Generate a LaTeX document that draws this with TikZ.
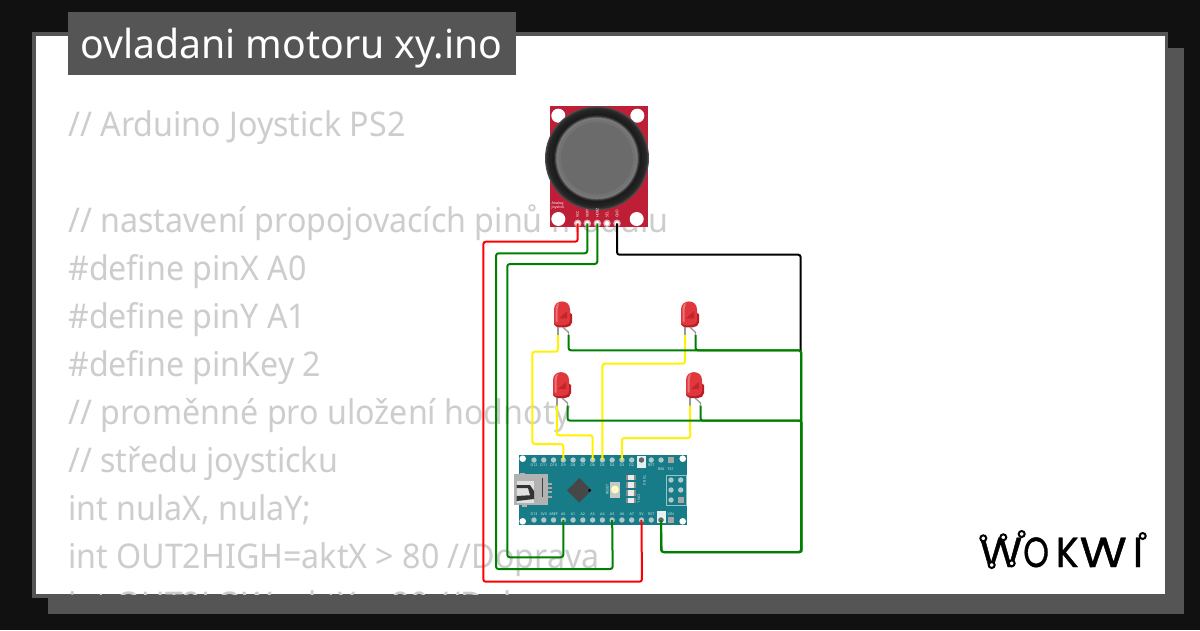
\documentclass[tikz,border=0pt]{standalone}
\usepackage{fontspec}
\setmainfont{Noto Sans}
\newfontfamily\codefont[FakeStretch=0.947]{Noto Sans}
\newfontfamily\titlefont[FakeStretch=0.98]{Noto Sans}
\newfontfamily\logofont[FakeBold=1]{Poppins}
\usepackage{xcolor}
\usetikzlibrary{positioning}
\definecolor{pagebg}{HTML}{111111}
\definecolor{cardgrey}{HTML}{555555}
\definecolor{codegrey}{HTML}{CDCDCD}
\definecolor{boardred}{HTML}{BE1E36}
\definecolor{nanoteal}{HTML}{177C87}
\definecolor{wiregreen}{HTML}{008000}
\definecolor{ledred}{HTML}{E0373D}
\definecolor{leddark}{HTML}{B81E24}
\tikzset{
  wire/.style={line width=2pt,rounded corners=2.5pt},
  redwire/.style={wire,red},
  greenwire/.style={wire,wiregreen},
  yellowwire/.style={wire,yellow},
  blackwire/.style={wire,black},
  codeline/.style={anchor=base west,inner sep=0pt,text=codegrey,font=\codefont\fontsize{34}{40}\selectfont},
  pinlabel/.style={inner sep=0pt,text=white!85!nanoteal,font=\fontsize{3.6}{4}\selectfont},
  jslabel/.style={inner sep=0pt,text=white,font=\fontsize{3.6}{4}\selectfont},
  ledleg/.style={draw=black!40,line width=1.3pt}
}
\begin{document}
\begin{tikzpicture}[x=1pt,y=-1pt]
  \useasboundingbox (0,0) rectangle (1200,630);
  \fill[pagebg] (0,0) rectangle (1200,630);
  \fill[cardgrey] (48,48) rectangle (1184,614);
  \fill[cardgrey] (32,32) rectangle (1168,598);
  \fill[white] (36,36) rectangle (1165,594);
  % code behind the circuit
  \begin{scope}
    \clip (36,36) rectangle (1165,594);
    \foreach \y/\codetext [count=\n] in {
      136/{// Arduino Joystick PS2},
      232/{// nastavení propojovacích pinů modulu},
      280/{\#define pinX A0},
      328/{\#define pinY A1},
      376/{\#define pinKey 2},
      424/{// proměnné pro uložení hodnoty},
      472/{// středu joysticku},
      520/{int nulaX, nulaY;},
      568/{int OUT2HIGH=aktX > 80 //Doprava},
      616/{int OUT2LOW=aktX < 80 //Doleva}
    } {
      \node[codeline] (code\n) at (68,\y) {\codetext};
    }
  \end{scope}
  \fill[cardgrey] (68,12) rectangle (516,75);
  \node[anchor=base west,inner sep=0pt,text=white,font=\titlefont\fontsize{40}{46}\selectfont] (title) at (80,58) {ovladani motoru xy.ino};
  % joystick
  \fill[boardred] (549.7,106) rectangle (647.7,227.3);
  \foreach \x/\y in {558.3/115.7,637.3/115.7,558.3/219,636.7/219} {
    \fill[white] (\x,\y) circle (7);
  }
  \foreach \r/\shadeval in {52/70,51/78,50/84,48/87,45/89,43/84,42/72,41/62,40.5/52,39/55,36/58} {
    \fill[black!\shadeval] (597,158.3) circle (\r);
  }
  \node[jslabel,align=left,anchor=north west] (jstext) at (551.5,201.5) {Analog\\Joystick};
  \foreach \pinname/\x in {VCC/577.7,VERT/587.3,HORZ/597.3,SEL/607,GND/617} {
    \coordinate (js\pinname) at (\x,223.3);
    \fill[black!15!boardred!35!white] (js\pinname) circle (3.8);
    \fill[white] (js\pinname) circle (2.2);
    \node[jslabel,rotate=90,anchor=west] (jslbl\pinname) at (\x,218) {\pinname};
  }
  % nano
  \fill[nanoteal] (519.3,455.3) rectangle (687,525);
  \foreach \x/\y in {522.7/458.7,682.7/458.7,522.7/521.3,682.7/521.3} {
    \fill[white] (\x,\y) circle (3.3);
  }
  \fill[white!90!nanoteal] (637.3,455.7) rectangle (646,467.7);
  \fill[white!90!nanoteal] (657,511) rectangle (665.7,523.3);
  \foreach \pinname [count=\i from 0] in {D12,D11,D10,D9,D8,D7,D6,D5,D4,D3,D2,GND,RST,RX0,TX1} {
    \coordinate (top\pinname) at (534+9.77*\i,460);
    \ifnum\i<14
      \fill[black!20!nanoteal!35!white] (top\pinname) circle (2.7);
    \else
      \fill[black!35] (top\pinname) ++(-3,-3) rectangle ++(6,6);
    \fi
    \ifnum\i<13
      \node[pinlabel] (toplbl\i) at (534+9.77*\i,465.3) {\pinname};
    \else
      \node[pinlabel] (toplbl\i) at (534+9.77*\i,469.5) {\pinname};
    \fi
  }
  \foreach \pinname [count=\i from 0] in {D13,3V3,AREF,A0,A1,A2,A3,A4,A5,A6,A7,5V,RST,GND,VIN} {
    \coordinate (bot\pinname) at (534+9.77*\i,520);
    \ifnum\i<14
      \fill[black!20!nanoteal!35!white] (bot\pinname) circle (2.7);
    \else
      \fill[black!35] (bot\pinname) ++(-3,-3) rectangle ++(6,6);
    \fi
    \node[pinlabel] (botlbl\i) at (534+9.77*\i,514.4) {\pinname};
  }
  \fill[black!60] (topGND) circle (2.7);
  \fill[black!60] (botGND) circle (2.7);
  % usb
  \fill[black!30] (514.3,474) rectangle (547.7,505);
  \fill[black!30] (520,473) rectangle (525,475);
  \fill[black!30] (522,505) rectangle (527,507);
  \fill[black!12] (516.5,481) rectangle (534,503);
  \fill[black!80] (516.7,485) -- (530,485) -- (534,491) -- (534,495) -- (530,495) -- (528,488) -- (516.7,488) -- cycle;
  \fill[black!80] (516.7,496) -- (534,495) -- (534,499) -- (516.7,501) -- cycle;
  \draw[black!75,line width=0.9pt] (542.7,478) -- (542.7,497);
  \foreach \y in {483,487,491,496} {
    \fill[black!35] (548,\y) rectangle (551.5,\y+2);
  }
  % chip, reset, leds, icsp
  \fill[black!72] (579.3,478) -- (591.6,490.3) -- (579.3,502.6) -- (567,490.3) -- cycle;
  \fill[black] (589.5,490.3) circle (1.5);
  \fill[black!22] (610,481.7) rectangle (620,497.7);
  \fill[yellow!25] (615,489.5) circle (4);
  \node[pinlabel,rotate=90] (resetlbl) at (607.3,489.5) {RESET};
  \foreach \y in {477.3,485,493,500.7} {
    \fill[black!45] (626,\y-2.6) rectangle (635.7,\y+2.6);
    \fill[black!8] (628,\y-2.6) rectangle (633.7,\y+2.6);
  }
  \node[pinlabel,rotate=-90] (txrxlbl) at (644.5,480.5) {TX RX};
  \node[pinlabel,rotate=-90] (onlbl) at (639,499) {ON\ \ L};
  \draw[white!55!nanoteal,line width=0.6pt] (666,475) rectangle (686,505.7);
  \foreach \x/\y in {671/480,680.7/480,671/490,680.7/490,671/500} {
    \fill[black!20!nanoteal!35!white] (\x,\y) circle (2.7);
  }
  \fill[black!35] (677.7,497) rectangle (683.7,503);
  % leds
  \foreach \name/\x/\y in {one/554/301.3,two/681/301.3,three/553/372,four/686/372} {
    \coordinate (led\name a) at (\x+4,\y+33.7);
    \coordinate (led\name c) at (\x+14.5,\y+33.7);
    \draw[ledleg] (\x+4,\y+25) -- (led\name a);
    \draw[ledleg] (\x+9,\y+26) -- (\x+14.5,\y+31) -- (led\name c);
    \fill[leddark] (\x,\y+22) -- (\x+14,\y+10) -- (\x+18,\y+13) -- (\x+18,\y+21) .. controls (\x+18,\y+24) and (\x+15,\y+26) .. (\x+12,\y+26) -- (\x+5,\y+26) .. controls (\x+3,\y+26) and (\x+1,\y+25) .. (\x,\y+23) -- cycle;
    \fill[ledred] (\x,\y+22) -- (\x,\y+8) .. controls (\x,\y-2.5) and (\x+16,\y-2.5) .. (\x+16,\y+8) -- (\x+16,\y+19) .. controls (\x+16,\y+22) and (\x+13,\y+24) .. (\x+8,\y+24) .. controls (\x+4,\y+24) and (\x+1,\y+24) .. (\x,\y+22) -- cycle;
    \fill[white,opacity=0.3] (\x+1.6,\y+20) -- (\x+1.6,\y+7) .. controls (\x+2,\y+4) and (\x+3,\y+2) .. (\x+5,\y+1.5) -- (\x+3.6,\y+8) -- (\x+3.6,\y+21) -- cycle;
    \fill[leddark,opacity=0.7] (\x+5,\y+17) -- (\x+13,\y+10) -- (\x+13,\y+17) -- cycle;
  }
  % wires
  \draw[redwire] (jsVCC) -- (577.7,241.7) -- (483.3,241.7) -- (483.3,581.7) -- (642,581.7) -- (bot5V);
  \draw[greenwire] (jsVERT) -- (587.3,253.3) -- (496,253.3) -- (496,569) -- (612.7,569) -- (botA5);
  \draw[greenwire] (jsHORZ) -- (597.3,264) -- (507.3,264) -- (507.3,557.3) -- (563.3,557.3) -- (botA0);
  \draw[blackwire] (jsGND) -- (617,254.7) -- (800.7,254.7) -- (800.7,351);
  \draw[yellowwire] (ledonea) -- (558,351.7) -- (532.3,351.7) -- (532.3,444) -- (563.3,444) -- (topD9);
  \draw[yellowwire] (ledtwoa) -- (685,363.7) -- (602.4,363.7) -- (topD5);
  \draw[yellowwire] (ledthreea) -- (556.7,435.3) -- (592.6,435.3) -- (topD6);
  \draw[yellowwire] (ledfoura) -- (690.3,438) -- (621.9,438) -- (topD3);
  \draw[greenwire] (ledonec) -- (568.5,350.3) -- (801,350.3) -- (801,552) -- (661,552) -- (botGND);
  \draw[greenwire] (ledtwoc) -- (695.5,350.3) -- (801.3,350.3) -- (801.3,552);
  \draw[greenwire] (ledthreec) -- (567.5,420.7) -- (801.7,420.7) -- (801.7,552.3) -- (661.6,552.3) -- (botGND);
  \draw[greenwire] (ledfourc) -- (700.5,420.7) -- (801.7,420.7);
  % logo
  \node[anchor=base west,inner sep=0pt,text=black,font=\logofont\fontsize{42}{48}\selectfont] (logo) at (979,567) {\scalebox{1.05}[1]{W}\kern1pt\scalebox{.78}[1]{O}\kern7pt\scalebox{.9}[1]{K}\kern1pt\scalebox{1.15}[1]{W}\kern6ptI};
  \foreach \x/\y in {983.3/538.3,1003.3/537.3,1021.7/534,991.7/565,1011.7/563.3,1142.7/536} {
    \draw[black,fill=white,line width=2pt] (\x,\y) circle (3);
  }
\end{tikzpicture}
\end{document}
